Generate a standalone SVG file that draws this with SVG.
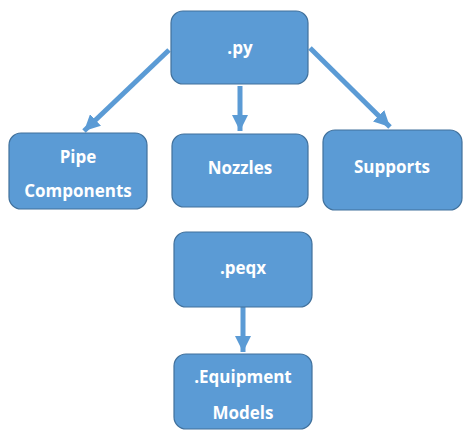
<svg xmlns="http://www.w3.org/2000/svg" width="474" height="439" viewBox="0 0 474 439">
<defs>
<style>
.box{fill:#5B9BD5;stroke:#41719C;stroke-width:1.2}
.t{fill:#fff;font-family:"Open Sans","Liberation Sans",sans-serif;font-weight:bold;font-size:17px;text-anchor:middle;dominant-baseline:central}
.c{stroke:#5B9BD5;stroke-width:5;fill:none}
.h{fill:#5B9BD5}
</style>
<marker id="ah" viewBox="0 0 10 10" refX="10" refY="5" markerWidth="3.2" markerHeight="3.2" orient="auto" markerUnits="strokeWidth">
<path d="M0,0 L10,5 L0,10 z" class="h"/>
</marker>
</defs>
<rect width="474" height="439" fill="#fff"/>
<g id="connectors">
<line class="c" x1="169" y1="50" x2="84" y2="131" marker-end="url(#ah)"/>
<line class="c" x1="240" y1="86" x2="240" y2="131" marker-end="url(#ah)"/>
<line class="c" x1="310" y1="48" x2="390" y2="127" marker-end="url(#ah)"/>
<line class="c" x1="243" y1="307" x2="243" y2="352" marker-end="url(#ah)"/>
</g>
<g id="py"><rect class="box" x="171" y="11" width="137" height="73" rx="12"/><text class="t" x="240" y="47">.py</text></g>
<g id="pipe"><rect class="box" x="9" y="133" width="138" height="76" rx="12"/><text class="t" x="78" y="156">Pipe</text><text class="t" x="78" y="190">Components</text></g>
<g id="nozzles"><rect class="box" x="172" y="134" width="136" height="73" rx="12"/><text class="t" x="240" y="167">Nozzles</text></g>
<g id="supports"><rect class="box" x="323" y="130" width="139" height="80" rx="12"/><text class="t" x="392" y="166">Supports</text></g>
<g id="peqx"><rect class="box" x="174" y="232" width="138" height="75" rx="12"/><text class="t" x="243" y="267">.peqx</text></g>
<g id="equipment"><rect class="box" x="174" y="354" width="138" height="75" rx="12"/><text class="t" x="243" y="376">.Equipment</text><text class="t" x="243" y="412">Models</text></g>
</svg>
